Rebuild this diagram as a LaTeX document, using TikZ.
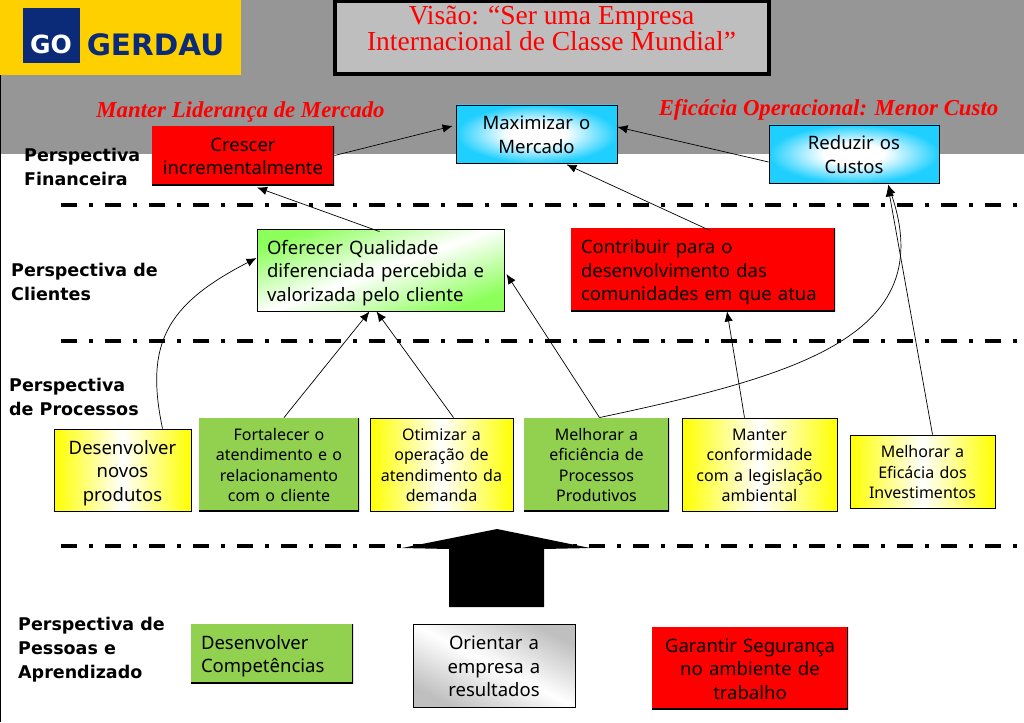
\documentclass[tikz,border=0pt]{standalone}
\usepackage{fontspec}
\setmainfont{Noto Sans}
\newfontfamily\headfont{DejaVu Sans}
\newfontfamily\serifhead{Liberation Serif}
\usetikzlibrary{arrows.meta}
\definecolor{bandgray}{HTML}{969696}
\definecolor{titlegray}{HTML}{BEBEBE}
\definecolor{leafgreen}{HTML}{92D050}
\definecolor{limegreen}{HTML}{8CFF5A}
\definecolor{skyblue}{HTML}{1FCFFF}
\definecolor{logoblue}{HTML}{0B2A78}
\definecolor{logoyellow}{HTML}{FFD000}
\pgfdeclareradialshading{skyfade}{\pgfpoint{0bp}{0bp}}{color(0bp)=(white);color(9bp)=(white);color(25bp)=(skyblue);color(50bp)=(skyblue)}
\tikzset{
  basebox/.style={draw=black,line width=0.9pt,inner sep=0pt,align=center,
    font=\fontsize{18.5}{23.5}\selectfont,
    execute at begin node={\rule{0pt}{0.95\baselineskip}},execute at end node=\strut},
  smallbox/.style={basebox,font=\fontsize{16}{20.5}\selectfont},
  edgebox/.style={draw=none,path picture={
    \draw [line width=1.5pt] (path picture bounding box.north east) --
      (path picture bounding box.south east) -- (path picture bounding box.south west);}},
  redbox/.style={edgebox,fill=red},
  greenbox/.style={edgebox,fill=leafgreen},
  bluebox/.style={shading=skyfade},
  yellowbox/.style={left color=yellow,right color=yellow,middle color=white},
  leftbox/.style={align=left,inner xsep=10pt},
  persp/.style={align=left,anchor=north west,inner sep=0pt,
    font=\headfont\bfseries\fontsize{17.5}{24}\selectfont},
  goal/.style={text=red,inner sep=0pt,
    font=\serifhead\bfseries\itshape\fontsize{22.8}{24}\selectfont},
  link/.style={-{Latex[length=10pt,width=8.5pt]},line width=0.7pt},
  divider/.style={line width=4pt,dash pattern=on 16pt off 12pt on 4pt off 12pt}
}
\begin{document}
\begin{tikzpicture}[x=1pt,y=-1pt]
\useasboundingbox (0,0) rectangle (1024,722);

% background band and left edge
\fill [bandgray] (0,0) rectangle (1024,154);
\fill [black] (0,0) rectangle (1.2,722);

% logo
\fill [logoyellow] (0,0) rectangle (241,75);
\fill [logoblue] (23,8) rectangle (79.5,63);
\node (logomark) at (51,44) [text=white,inner sep=0pt,font=\headfont\bfseries\fontsize{25}{26}\selectfont] {GO};
\node (logotext) at (155.5,45) [text=logoblue,inner sep=0pt,font=\headfont\bfseries\fontsize{29.5}{30}\selectfont] {GERDAU};

% vision title
\node (visao) at (551.5,37.5) [draw=black,line width=4pt,fill=titlegray,text=red,inner sep=0pt,
  minimum width=434,minimum height=73,align=center,
  font=\serifhead\fontsize{27.5}{26.5}\selectfont]
  {Visão: “Ser uma Empresa\\Internacional de Classe Mundial”\\[-8pt]\mbox{}};

% dashed dividers
\foreach \y in {205,341,546} {
    \draw [divider] (61,\y) -- (1020,\y);
}

% big arrow
\fill [black] (497,529) -- (590,548) -- (544,549) -- (544,607) -- (449,607) -- (449,549) -- (402,548) -- cycle;

% perspective labels
\node (pfin) at (24,148) [persp] {Perspectiva\\Financeira};
\node (pcli) at (11,263) [persp] {Perspectiva de\\Clientes};
\node (pproc) at (9,378) [persp] {Perspectiva\\de Processos};
\node (ppes) at (18,616.5) [persp] {Perspectiva de\\Pessoas e\\Aprendizado};

% goal labels
\node (liderar) at (240.5,112) [goal] {Manter Liderança de Mercado};
\node (eficacia) at (828.5,110) [goal] {Eficácia Operacional: Menor Custo};

% financial boxes
\node (crescer) at (243,155.5) [basebox,redbox,text width=182,minimum height=59] {Crescer\\incrementalmente};
\node (maximizar) at (536.5,134) [basebox,bluebox,text width=161,minimum height=58] {Maximizar o\\Mercado};
\node (reduzir) at (854,154) [basebox,bluebox,text width=170,minimum height=58] {Reduzir os\\Custos};

% client boxes
\node (oferecer) at (380.5,270) [basebox,leftbox,top color=limegreen,bottom color=limegreen,middle color=white,shading angle=20,
  text width=227,minimum height=82] {Oferecer Qualidade\\diferenciada percebida e\\valorizada pelo cliente};
\node (contribuir) at (703,269.5) [basebox,leftbox,redbox,text width=244,minimum height=83] {Contribuir para o\\desenvolvimento das\\comunidades em que atua};

% process boxes
\node (novos) at (122.5,470) [basebox,yellowbox,text width=137,minimum height=82] {Desenvolver\\novos\\produtos};
\node (fortalecer) at (279,464.5) [smallbox,greenbox,text width=160,minimum height=93] {Fortalecer o\\atendimento e o\\relacionamento\\com o cliente};
\node (otimizar) at (441.5,464.5) [smallbox,yellowbox,text width=143,minimum height=93] {Otimizar a\\operação de\\atendimento da\\demanda};
\node (eficiencia) at (596.5,464.5) [smallbox,greenbox,text width=145,minimum height=93] {Melhorar a\\eficiência de\\Processos\\Produtivos};
\node (manter) at (759.5,464.5) [smallbox,yellowbox,text width=155,minimum height=93] {Manter\\conformidade\\com a legislação\\ambiental};
\node (investir) at (922.5,471.5) [smallbox,yellowbox,text width=145,minimum height=73] {Melhorar a\\Eficácia dos\\Investimentos};

% people boxes
\node (competencias) at (272,653.5) [basebox,leftbox,greenbox,text width=142,minimum height=59] {Desenvolver\\Competências};
\node (orientar) at (494,665.5) [basebox,top color=gray!50,bottom color=gray!50,middle color=white,shading angle=-27,
  text width=162,minimum height=83] {Orientar a\\empresa a\\resultados};
\node (seguranca) at (750,668) [basebox,redbox,text width=196,minimum height=82] {Garantir Segurança\\no ambiente de\\trabalho};

% links between boxes
\draw [link] (crescer.east) -- ([xshift=-3,yshift=8]maximizar.west);
\draw [link] ([yshift=-8]reduzir.west) -- ([yshift=7]maximizar.east);
\draw [link] ([xshift=-1,yshift=-3]oferecer.north) -- ([xshift=14,yshift=-2]crescer.south);
\draw [link] ([xshift=7,yshift=-3]contribuir.north) -- ([xshift=30,yshift=-1]maximizar.south);
\draw [link] ([xshift=40]novos.north) .. controls (145,345) and (165,305) .. ([yshift=12]oferecer.west);
\draw [link] ([xshift=5]fortalecer.north) -- ([xshift=-11]oferecer.south);
\draw [link] ([xshift=12]otimizar.north) -- ([xshift=-4]oferecer.south);
\draw [link] ([xshift=3]eficiencia.north) -- ([xshift=2,yshift=-4]oferecer.east);
\draw [link] ([xshift=3]eficiencia.north) .. controls (800,375) and (940,335) .. ([xshift=34,yshift=-1]reduzir.south);
\draw [link] ([xshift=-15]manter.north) -- ([xshift=24]contribuir.south);
\draw [link] ([xshift=10]investir.north) -- ([xshift=34,yshift=-3]reduzir.south);

\end{tikzpicture}
\end{document}
